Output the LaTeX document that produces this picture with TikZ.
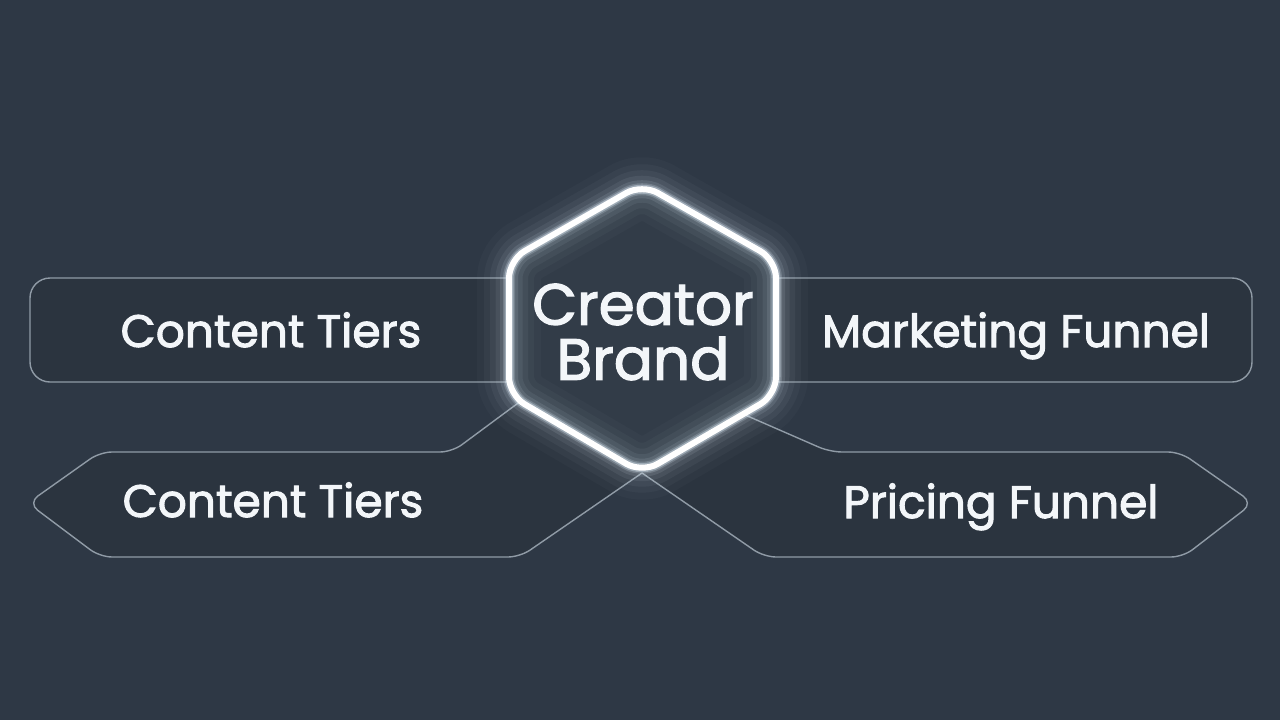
\documentclass[tikz,border=0pt]{standalone}
\usepackage{fontspec}
\setmainfont{Poppins}[Ligatures=CommonOff]
\newfontfamily\labfont{Poppins}[Ligatures=CommonOff, FakeBold=2.2]
\definecolor{bg}{HTML}{2E3845}
\definecolor{panelfill}{HTML}{2B343F}
\definecolor{edgecol}{HTML}{909BA6}
\definecolor{glowcol}{HTML}{DCEAF5}
\definecolor{hexfill}{HTML}{323C48}
\definecolor{txt}{HTML}{F3F6F9}
\tikzset{
  panel/.style={draw=edgecol, line width=1.4pt, fill=panelfill, rounded corners=12pt, line join=round},
  label/.style={text=txt, anchor=base, font=\labfont\fontsize{45.5}{50}\selectfont, inner sep=0pt},
  hublabel/.style={text=txt, align=center, font=\labfont\fontsize{58}{55}\selectfont, inner sep=0pt}
}
\begin{document}
\begin{tikzpicture}[x=1pt,y=-1pt]
\useasboundingbox (0,0) rectangle (1280,720);
\fill[bg] (0,0) rectangle (1280,720);
% hexagon corners
\coordinate (hT) at (642,184);
\coordinate (hUR) at (776,260);
\coordinate (hLR) at (776,395);
\coordinate (hB) at (642,473);
\coordinate (hLL) at (509,395);
\coordinate (hUL) at (509,260);
% panels
\draw[panel, rounded corners=20pt] (30,278) rectangle (600,382);
\draw[panel, rounded corners=20pt] (690,278) rectangle (1252,382);
\draw[panel] (hB) -- (520,557) -- (100,557) -- (28,503) -- (100,452) -- (452,452) -- (560,372);
\draw[panel] (hB) -- (764,557) -- (1183,557) -- (1253,503) -- (1180,452) -- (830,452) -- (720,404);
% hexagon
\fill[hexfill, rounded corners=18pt] (hT) -- (hUR) -- (hLR) -- (hB) -- (hLL) -- (hUL) -- cycle;
\foreach \w/\o in {64/0.025,50/0.035,38/0.05,27/0.07,18/0.11,12/0.2,9/0.4}{
  \draw[glowcol, line width=\w pt, opacity=\o, rounded corners=18pt, line join=round]
    (hT) -- (hUR) -- (hLR) -- (hB) -- (hLL) -- (hUL) -- cycle;
}
\draw[white, line width=6pt, rounded corners=18pt, line join=round]
  (hT) -- (hUR) -- (hLR) -- (hB) -- (hLL) -- (hUL) -- cycle;
% labels
\node[hublabel] (hub) at (643,332) {Creator\\Brand};
\node[label] (ct1) at (271,347) {Content Tiers};
\node[label] (mf) at (1016,347) {Marketing Funnel};
\node[label] (ct2) at (273,517) {Content Tiers};
\node[label] (pf) at (1001,518) {Pricing Funnel};
\end{tikzpicture}
\end{document}
